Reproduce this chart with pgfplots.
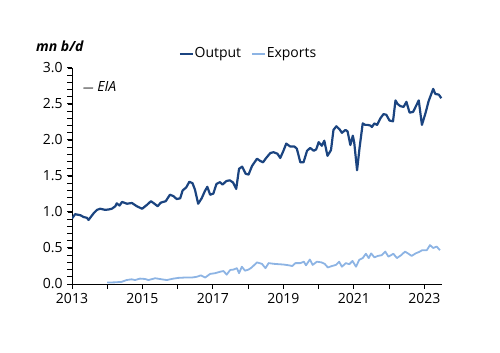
\documentclass[border=0pt]{standalone}
\usepackage{fontspec}
\setmainfont{Open Sans}
\usepackage{pgfplots}
\pgfplotsset{compat=1.18}
\definecolor{outc}{RGB}{27,68,128}
\definecolor{expc}{RGB}{141,180,228}
\begin{document}
\fontsize{14bp}{16bp}\selectfont
\begin{tikzpicture}
\path[use as bounding box] (-72bp,-69bp) rectangle (428bp,284bp);
\begin{axis}[
 scale only axis, width=370bp, height=216bp,
 xmin=2013, xmax=2023.5, ymin=0, ymax=3,
 axis lines*=left,
 xtick={2013,2015,2017,2019,2021,2023}, minor xtick={2014,2016,2018,2020,2022},
 ytick={0,0.5,1,1.5,2,2.5,3},
 minor ytick={0.1,0.2,0.3,0.4,0.6,0.7,0.8,0.9,1.1,1.2,1.3,1.4,1.6,1.7,1.8,1.9,2.1,2.2,2.3,2.4,2.6,2.7,2.8,2.9},
 tick align=outside, major tick length=4.5bp, minor tick length=4.5bp,
 major tick style={black, line width=1bp},
 minor tick style={black, line width=1bp},
 x axis line style={black, line width=1bp},
 y axis line style={black, line width=1bp},
 xticklabel={\pgfmathprintnumber[1000 sep={},assume math mode=true]{\tick}},
 yticklabel={\pgfmathprintnumber[fixed,fixed zerofill,precision=1,assume math mode=true]{\tick}},
 tick label style={font=\fontsize{14bp}{16bp}\selectfont},
 legend style={at={(0.476,1.065)}, anchor=center, draw=none, fill=none,
   legend columns=2, font=\fontsize{14bp}{16bp}\selectfont,
   /tikz/every even column/.append style={column sep=9bp},
   nodes={inner sep=1bp}},
 legend image code/.code={\draw[#1, line width=1.6bp] (0bp,0bp) -- (13bp,0bp);},
]
\addplot[color=outc, line width=2.2bp, line join=round] coordinates {
(2013.00,0.91) (2013.09,0.97) (2013.24,0.955) (2013.33,0.93) (2013.42,0.92) (2013.47,0.89)
(2013.61,0.98) (2013.71,1.03) (2013.80,1.045) (2013.94,1.03) (2014.04,1.035) (2014.13,1.045)
(2014.23,1.08) (2014.27,1.12) (2014.35,1.09) (2014.42,1.14) (2014.56,1.115) (2014.70,1.125)
(2014.84,1.08) (2014.99,1.045) (2015.13,1.10) (2015.24,1.15) (2015.34,1.115) (2015.43,1.08)
(2015.52,1.13) (2015.66,1.15) (2015.78,1.24) (2015.88,1.22) (2015.97,1.18) (2016.07,1.19)
(2016.14,1.30) (2016.24,1.34) (2016.33,1.42) (2016.42,1.40) (2016.49,1.31) (2016.58,1.115)
(2016.68,1.19) (2016.77,1.29) (2016.84,1.35) (2016.92,1.24) (2017.01,1.255) (2017.10,1.39)
(2017.20,1.415) (2017.27,1.38) (2017.38,1.43) (2017.48,1.44) (2017.57,1.41) (2017.66,1.32)
(2017.74,1.60) (2017.83,1.63) (2017.93,1.53) (2018.01,1.52) (2018.11,1.64) (2018.25,1.74)
(2018.34,1.71) (2018.42,1.69) (2018.51,1.75) (2018.63,1.82) (2018.72,1.83) (2018.83,1.81)
(2018.91,1.75) (2019.00,1.85) (2019.08,1.95) (2019.19,1.91) (2019.31,1.91) (2019.38,1.88)
(2019.48,1.69) (2019.57,1.69) (2019.67,1.85) (2019.76,1.89) (2019.86,1.85) (2019.93,1.87)
(2020.00,1.97) (2020.09,1.92) (2020.16,1.99) (2020.25,1.78) (2020.35,1.86) (2020.42,2.14)
(2020.50,2.19) (2020.59,2.15) (2020.66,2.10) (2020.76,2.14) (2020.82,2.12) (2020.90,1.93)
(2020.97,2.06) (2021.01,1.96) (2021.09,1.58) (2021.16,1.89) (2021.25,2.23) (2021.32,2.21)
(2021.39,2.21) (2021.47,2.20) (2021.51,2.18) (2021.58,2.23) (2021.66,2.21) (2021.75,2.30)
(2021.84,2.36) (2021.92,2.35) (2022.01,2.27) (2022.11,2.26) (2022.18,2.55) (2022.24,2.50)
(2022.32,2.47) (2022.41,2.46) (2022.49,2.53) (2022.58,2.38) (2022.68,2.39) (2022.77,2.48)
(2022.84,2.55) (2022.93,2.21) (2023.03,2.37) (2023.12,2.54) (2023.25,2.71) (2023.31,2.64)
(2023.41,2.63) (2023.48,2.58)
};
\addlegendentry{Output}
\addplot[color=expc, line width=1.8bp, line join=round] coordinates {
(2014.00,0.02) (2014.22,0.023) (2014.41,0.03) (2014.55,0.055) (2014.69,0.065) (2014.79,0.055)
(2014.93,0.075) (2015.07,0.07) (2015.17,0.055) (2015.36,0.08) (2015.55,0.065) (2015.69,0.055)
(2015.88,0.075) (2016.02,0.085) (2016.21,0.09) (2016.40,0.09) (2016.54,0.10) (2016.66,0.12)
(2016.78,0.09) (2016.92,0.14) (2017.06,0.15) (2017.20,0.17) (2017.30,0.18) (2017.39,0.13)
(2017.49,0.195) (2017.58,0.20) (2017.68,0.22) (2017.74,0.15) (2017.82,0.24) (2017.91,0.185)
(2018.01,0.20) (2018.10,0.23) (2018.25,0.30) (2018.39,0.28) (2018.49,0.22) (2018.58,0.29)
(2018.73,0.28) (2018.87,0.275) (2019.01,0.27) (2019.15,0.26) (2019.25,0.25) (2019.34,0.29)
(2019.48,0.29) (2019.58,0.31) (2019.64,0.26) (2019.75,0.34) (2019.83,0.265) (2019.95,0.31)
(2020.08,0.30) (2020.17,0.28) (2020.26,0.23) (2020.38,0.25) (2020.49,0.265) (2020.58,0.31)
(2020.66,0.24) (2020.77,0.29) (2020.87,0.275) (2020.96,0.32) (2021.06,0.24) (2021.15,0.335)
(2021.25,0.36) (2021.34,0.42) (2021.42,0.36) (2021.49,0.425) (2021.58,0.37) (2021.68,0.39)
(2021.79,0.40) (2021.89,0.45) (2021.98,0.38) (2022.12,0.42) (2022.22,0.36) (2022.34,0.40)
(2022.45,0.45) (2022.55,0.42) (2022.64,0.39) (2022.75,0.425) (2022.85,0.445) (2022.94,0.47)
(2023.07,0.47) (2023.16,0.54) (2023.25,0.50) (2023.35,0.52) (2023.44,0.47)
};
\addlegendentry{Exports}
\end{axis}
\foreach \i in {0,...,10} \draw[black, line width=1bp] (\i*35.238bp,0bp) -- ++(0bp,-4.5bp);
\foreach \i in {0,...,30} \draw[black, line width=1bp] (0bp,\i*7.2bp) -- ++(-4.5bp,0bp);
\node[anchor=base west, font=\bfseries\itshape, inner sep=0pt] at (-36bp,232bp) {mn b/d};
\node[anchor=base west, font=\itshape, inner sep=0pt] at (11bp,192.5bp) {{\fontsize{11bp}{12bp}\selectfont\textemdash}\ EIA};
\end{tikzpicture}
\end{document}
